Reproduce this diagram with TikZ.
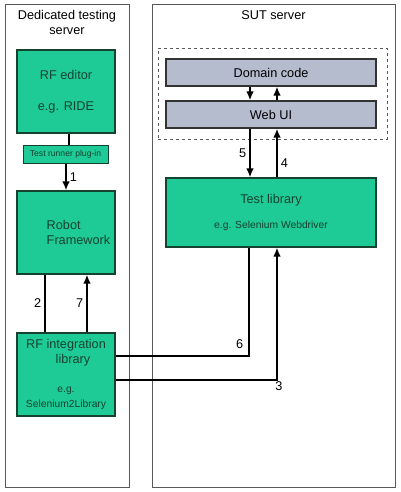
\documentclass[tikz,border=0pt]{standalone}
\usepackage{fontspec}
\setmainfont{Liberation Sans}
\usepackage{tikz}
\definecolor{rfgreen}{RGB}{30, 202, 150}
\definecolor{rfdark}{RGB}{22, 66, 48}
\definecolor{sutgray}{RGB}{180, 188, 206}
\usetikzlibrary{arrows.meta}

\begin{document}
\begin{tikzpicture}[x=1pt, y=-1pt,
			>={Latex[length=9pt, width=7.5pt]},   %Pfeilspitzen
			server/.style={draw=black!65, line width=0.8pt, minimum width=#1, minimum height=483pt, inner sep=0pt},
			rfbox/.style={draw=rfdark, fill=rfgreen, text=rfdark, line width=1.2pt, minimum width=98pt, minimum height=83pt, inner sep=0pt, align=center, font=\fontsize{12.7}{15}\selectfont},
			sutbox/.style={draw=black!80, fill=sutgray, line width=1.2pt, minimum width=210pt, minimum height=27pt, inner sep=0pt, font=\fontsize{12.7}{15}\selectfont},
			conn/.style={line width=1.7pt},
			num/.style={font=\fontsize{12.7}{15}\selectfont, inner sep=3pt}]
			\useasboundingbox (0,0) rectangle (400,492);
			%Server zeichnen
			\node[server=124pt] (testsrv) at (67,245.5) {};
			\node[server=243pt] (sutsrv) at (273.5,245.5) {};
			\node[font=\fontsize{12.7}{15}\selectfont, align=center] (testtitle) at (67,22.5) {Dedicated testing\\server};
			\node[font=\fontsize{12.7}{15}\selectfont] (suttitle) at (273.5,15) {SUT server};
			% SUT
			\node[draw=black!65, dashed, line width=0.8pt, minimum width=229pt, minimum height=91pt] (sutarea) at (272.5,93.5) {};
			\node[sutbox] (domain) at (271,72.5) {Domain code};
			\node[sutbox] (webui) at (271,114.5) {Web UI};
			\node[rfbox, minimum width=210pt, minimum height=69pt] (testlib) at (271,212.5)
				{Test library\\[10pt]{\fontsize{10.3}{12}\selectfont e.g. Selenium Webdriver}};
			% Testserver
			\node[rfbox] (rfeditor) at (66,91.5) {RF editor\\[16pt]e.g. RIDE};
			\node[rfbox, minimum width=85pt, minimum height=18pt, line width=1pt, font=\fontsize{8.6}{10}\selectfont] (plugin) at (65.5,154) {Test runner plug-in};
			\node[rfbox, align=left] (robot) at (66,232.5) {\hspace*{25pt}Robot\\\hspace*{25pt}Framework};
			\node[rfbox] (rfint) at (66,374.5)
				{RF integration\\\hspace*{14pt}library\\[14pt]{\fontsize{10.3}{12}\selectfont e.g.}\\{\fontsize{10.3}{12}\selectfont Selenium2Library}};
			%Verbindungen zeichnen
			\draw[conn] ([xshift=3pt]rfeditor.south) -- ([xshift=3.5pt]plugin.north);
			\draw[conn,->] ([xshift=0.5pt]plugin.south) -- (robot.north) node[num, midway, right] {1};
			\draw[conn] ([xshift=-21pt]robot.south) -- ([xshift=-21pt]rfint.north) node[num, midway, left] {2};
			\draw[conn,->] ([xshift=21pt]rfint.north) -- ([xshift=21pt]robot.south) node[num, midway, left] {7};
			\draw[conn,->] ([xshift=-21pt]domain.south) -- ([xshift=-21pt]webui.north);
			\draw[conn,->] ([xshift=6pt]webui.north) -- ([xshift=6pt]domain.south);
			\draw[conn,->] ([xshift=-21pt]webui.south) -- ([xshift=-21pt]testlib.north) node[num, midway, left] {5};
			\draw[conn,->] ([xshift=6pt]testlib.north) -- ([xshift=6pt]webui.south) node[num, pos=0.3, right] {4};
			\draw[conn] ([yshift=18.5pt]rfint.east) -| ([xshift=-22pt]testlib.south) node[num, pos=0.5, above left, xshift=-2pt, yshift=4pt] {6};
			\draw[conn,->] ([yshift=-5.5pt]rfint.east) -| ([xshift=6pt]testlib.south) node[num, pos=0.5, below, xshift=2pt, inner sep=1pt] {3};
		\end{tikzpicture}
\end{document}
